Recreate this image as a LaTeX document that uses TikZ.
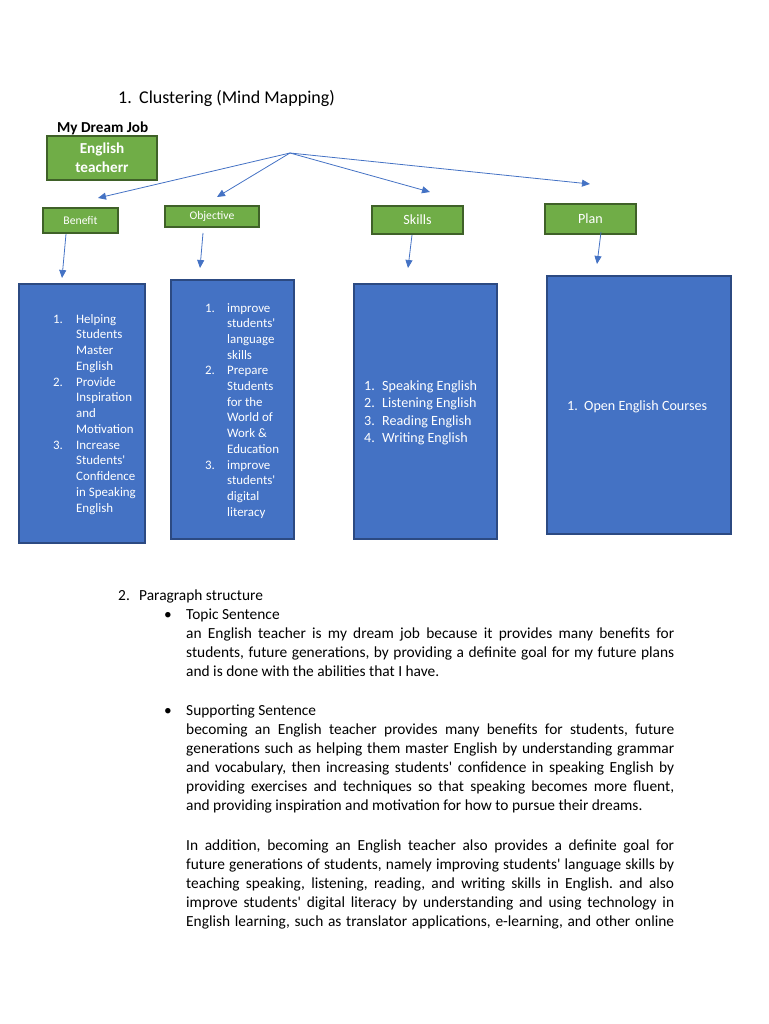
\documentclass[tikz,border=0pt]{standalone}
\usepackage{fontspec}
\setmainfont{Carlito}
\usetikzlibrary{arrows.meta}
\definecolor{grn}{HTML}{70AD47}
\definecolor{grnline}{HTML}{3F6128}
\definecolor{blu}{HTML}{4472C4}
\definecolor{bluline}{HTML}{2C4A82}
\newcommand\sq{\textquotesingle}
\frenchspacing
\begin{document}
\begin{tikzpicture}[x=1pt,y=-1pt,
  gbox/.style={draw=grnline, fill=grn, line width=1.2pt, inner sep=0pt, text=white},
  bbox/.style={draw=bluline, fill=blu, line width=1.2pt, inner sep=0pt},
  conn/.style={draw=blu, line width=0.8pt, -{Triangle[length=8pt,width=7pt]}},
  lbl/.style={inner sep=0pt, anchor=base west},
  boxtext/.style={inner sep=0pt, anchor=base west, text=white},
  body/.style={inner sep=0pt, anchor=base west, font=\fontsize{15.4}{19.2}\selectfont}]
\useasboundingbox (0,0) rectangle (768,1024);

% heading
\node[lbl, font=\fontsize{18}{21}\selectfont] (h1n) at (118,104) {1.};
\node[lbl, font=\fontsize{18}{21}\selectfont] (h1) at (139,104) {Clustering (Mind Mapping)};
\node[lbl, font=\fontsize{15.2}{18}\selectfont\bfseries] (dream) at (57,133) {My Dream Job};

% green boxes
\node[gbox, minimum width=110, minimum height=44, align=center,
  font=\fontsize{15.2}{19}\selectfont\bfseries] (eng) at (102,158) {English\\teacherr};
\node[gbox, minimum width=75, minimum height=25, font=\fontsize{11.7}{14}\selectfont] (benefit) at (80.5,220.5) {Benefit};
\node[gbox, minimum width=94, minimum height=21, font=\fontsize{11.7}{14}\selectfont] (objective) at (212,216.5) {Objective};
\node[gbox, minimum width=91, minimum height=28, font=\fontsize{14.1}{16}\selectfont] (skills) at (417.5,220) {Skills};
\node[gbox, minimum width=91, minimum height=30, font=\fontsize{14.1}{16}\selectfont] (plan) at (590.5,219) {Plan};

% blue boxes
\node[bbox, minimum width=126, minimum height=259] (b1) at (82,413.5) {};
\node[bbox, minimum width=123, minimum height=259] (b2) at (232.5,409.5) {};
\node[bbox, minimum width=143, minimum height=255] (b3) at (425.5,411.5) {};
\node[bbox, minimum width=184, minimum height=258] (b4) at (639,405) {};

% arrows from hub
\coordinate (hub) at (290,153);
\coordinate (t1) at (98,198);
\coordinate (t2) at (217,197);
\coordinate (t3) at (430,192);
\coordinate (t4) at (590,184);
\draw[conn] (hub) -- (t1);
\draw[conn] (hub) -- (t2);
\draw[conn] (hub) -- (t3);
\draw[conn] (hub) -- (t4);

% vertical arrows
\coordinate (s1) at (66,234); \coordinate (e1) at (62,278);
\coordinate (s2) at (203,233); \coordinate (e2) at (200,268);
\coordinate (s3) at (412,235); \coordinate (e3) at (408,268);
\coordinate (s4) at (601,232); \coordinate (e4) at (597,264);
\draw[conn] (s1) -- (e1);
\draw[conn] (s2) -- (e2);
\draw[conn] (s3) -- (e3);
\draw[conn] (s4) -- (e4);

% box texts
\node[boxtext, font=\fontsize{12.9}{15.75}\selectfont] (l1) at (53,323) {%
\begin{tabular}[t]{@{}p{23pt}@{}l@{}}
1. & Helping\\ & Students\\ & Master\\ & English\\
2. & Provide\\ & Inspiration\\ & and\\ & Motivation\\
3. & Increase\\ & Students\sq\\ & Confidence\\ & in Speaking\\ & English
\end{tabular}};
\node[boxtext, font=\fontsize{12.9}{15.7}\selectfont] (l2) at (205,312) {%
\begin{tabular}[t]{@{}p{22pt}@{}l@{}}
1. & improve\\ & students\sq\\ & language\\ & skills\\
2. & Prepare\\ & Students\\ & for the\\ & World of\\ & Work \&\\ & Education\\
3. & improve\\ & students\sq\\ & digital\\ & literacy
\end{tabular}};
\node[boxtext, font=\fontsize{14.1}{17.5}\selectfont] (l3) at (364,390) {%
\begin{tabular}[t]{@{}p{18pt}@{}l@{}}
1. & Speaking English\\
2. & Listening English\\
3. & Reading English\\
4. & Writing English
\end{tabular}};
\node[boxtext, font=\fontsize{14.1}{17.5}\selectfont] (l4) at (567,410) {%
\begin{tabular}[t]{@{}p{17pt}@{}l@{}}
1. & Open English Courses
\end{tabular}};

% section 2
\node[body] (h2n) at (118,600) {2.};
\node[body] (h2) at (139,600) {Paragraph structure};
\node[body] (bul1) at (164,619) {\textbullet};
\node[body] (ts) at (186,619) {Topic Sentence};
\node[body] (p1) at (186,638) {\parbox[t]{488pt}{\parindent=0pt
an English teacher is my dream job because it provides many benefits for\linebreak
students, future generations, by providing a definite goal for my future plans\linebreak
and is done with the abilities that I have.}};
\node[body] (bul2) at (164,715) {\textbullet};
\node[body] (ss) at (186,715) {Supporting Sentence};
\node[body] (p2) at (186,734) {\parbox[t]{488pt}{\parindent=0pt
becoming an English teacher provides many benefits for students, future\linebreak
generations such as helping them master English by understanding grammar\linebreak
and vocabulary, then increasing students\sq{} confidence in speaking English by\linebreak
providing exercises and techniques so that speaking becomes more fluent,\linebreak
and providing inspiration and motivation for how to pursue their dreams.}};
\node[body] (p3) at (186,850) {\parbox[t]{488pt}{\parindent=0pt\parfillskip=0pt
In addition, becoming an English teacher also provides a definite goal for\linebreak
future generations of students, namely improving students\sq{} language skills by\linebreak
teaching speaking, listening, reading, and writing skills in English. and also\linebreak
improve students\sq{} digital literacy by understanding and using technology in\linebreak
English learning, such as translator applications, e-learning, and other online}};
\end{tikzpicture}
\end{document}
